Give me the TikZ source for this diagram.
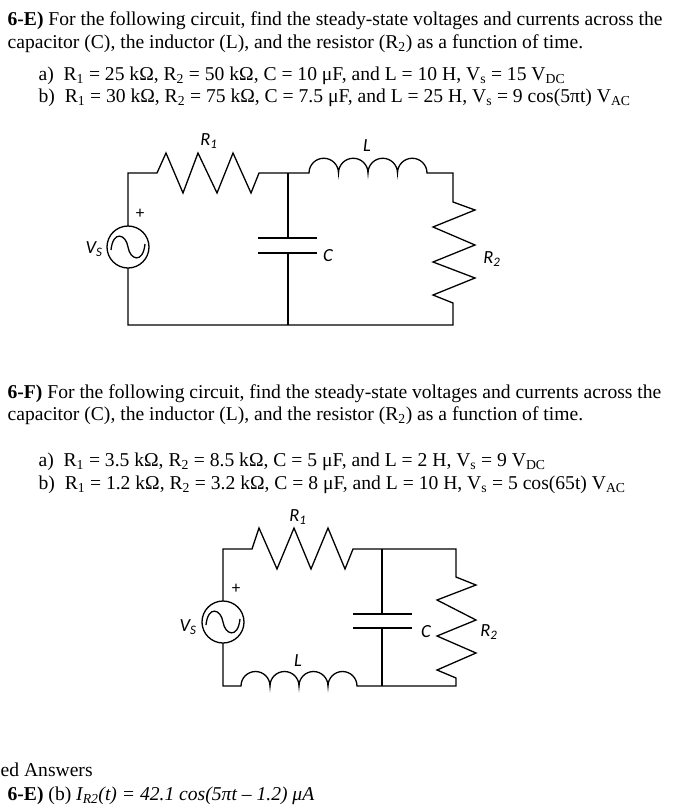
\documentclass[tikz,border=0pt]{standalone}
\usepackage{fontspec}
\setmainfont{Liberation Serif}
\newfontfamily\lab{Carlito}
\begin{document}
\begin{tikzpicture}[x=1pt,y=-1pt,line width=1.3pt,
  txt/.style={anchor=base west,inner sep=0pt,font=\fontsize{19.6}{22}\selectfont},
  clab/.style={inner sep=0pt,font=\lab\itshape\fontsize{18.5}{20}\selectfont},
  plus/.style={inner sep=0pt,font=\lab\fontsize{17}{18}\selectfont}]
\useasboundingbox (0,0) rectangle (690,809);
% text
\node[txt] (t1) at (7,25) {\textbf{6-E)} For the following circuit, find the steady-state voltages and currents across the};
\node[txt] (t2) at (7,48) {capacitor (C), the inductor (L), and the resistor (R\textsubscript{2}) as a function of time.};
\node[txt] (t3) at (38,80) {a)\ \ R\textsubscript{1} = 25 kΩ, R\textsubscript{2} = 50 kΩ, C = 10 μF, and L = 10 H, V\textsubscript{s} = 15 V\textsubscript{DC}};
\node[txt] (t4) at (38,102) {b)\ \ R\textsubscript{1} = 30 kΩ, R\textsubscript{2} = 75 kΩ, C = 7.5 μF, and L = 25 H, V\textsubscript{s} = 9 cos(5πt) V\textsubscript{AC}};
\node[txt] (t5) at (7,398) {\textbf{6-F)} For the following circuit, find the steady-state voltages and currents across the};
\node[txt] (t6) at (7,420) {capacitor (C), the inductor (L), and the resistor (R\textsubscript{2}) as a function of time.};
\node[txt] (t7) at (38,466) {a)\ \ R\textsubscript{1} = 3.5 kΩ, R\textsubscript{2} = 8.5 kΩ, C = 5 μF, and L = 2 H, V\textsubscript{s} = 9 V\textsubscript{DC}};
\node[txt] (t8) at (38,489) {b)\ \ R\textsubscript{1} = 1.2 kΩ, R\textsubscript{2} = 3.2 kΩ, C = 8 μF, and L = 10 H, V\textsubscript{s} = 5 cos(65t) V\textsubscript{AC}};
\node[txt] (t9) at (0,776) {ed Answers};
\node[txt] (t10) at (7,800) {\textbf{6-E)} (b) \textit{I\textsubscript{R2}(t) = 42.1 cos(5πt – 1.2) μA}};
% circuit 1
\draw (128,226) -- (128,173) -- (157,173) -- (166,153) -- (183,193) -- (198,153) -- (217,193) -- (233,153) -- (251,193) -- (259,173) -- (309,173)
  arc[start angle=180,end angle=0,radius=14.75pt] arc[start angle=180,end angle=0,radius=14.75pt]
  arc[start angle=180,end angle=0,radius=14.75pt] arc[start angle=180,end angle=0,radius=14.75pt]
  -- (453,173) -- (453,202) -- (475,210) -- (433,227) -- (475,245) -- (433,262) -- (475,278) -- (433,295) -- (453,303) -- (453,325) -- (128,325) -- (128,268);
\draw (128,247) circle[radius=21pt];
\draw (111,250) .. controls (113,230) and (126,234) .. (128,247) .. controls (130,260) and (143,264) .. (145,244);
\draw (288,173) -- (288,238) (288,253) -- (288,325);
\draw (258,238) -- (317,238) (258,253) -- (317,253);
\node[plus] (p1) at (140,214) {+};
\node[clab] (vs1) at (94,249) {V\textsubscript{S}};
\node[clab] (c1) at (328,256) {C};
\node[clab] (r21) at (492,259) {R\textsubscript{2}};
\node[clab] (l1) at (367,146) {L};
\node[clab] (r11) at (209,141) {R\textsubscript{1}};
% circuit 2
\draw (223,601) -- (223,549) -- (252,549) -- (259,528) -- (277,569) -- (294,528) -- (311,569) -- (328,528) -- (345,569) -- (353,549) -- (456,549) -- (456,577) -- (476,585) -- (437,600) -- (476,620) -- (437,636) -- (476,653) -- (437,670) -- (456,678) -- (456,686) -- (357,686)
  arc[start angle=0,end angle=180,radius=14.5pt] arc[start angle=0,end angle=180,radius=14.5pt]
  arc[start angle=0,end angle=180,radius=14.5pt] arc[start angle=0,end angle=180,radius=14.5pt]
  -- (223,686) -- (223,643);
\draw (223,622) circle[radius=21pt];
\draw (206,625) .. controls (208,605) and (221,609) .. (223,622) .. controls (225,635) and (238,639) .. (240,619);
\draw (382,549) -- (382,614) (382,628) -- (382,686);
\draw (353,614) -- (412,614) (353,628) -- (412,628);
\node[plus] (p2) at (236,589) {+};
\node[clab] (vs2) at (188,627) {V\textsubscript{S}};
\node[clab] (c2) at (426,632) {C};
\node[clab] (r22) at (489,632) {R\textsubscript{2}};
\node[clab] (l2) at (298,661) {L};
\node[clab] (r12) at (298,517) {R\textsubscript{1}};
\end{tikzpicture}
\end{document}
